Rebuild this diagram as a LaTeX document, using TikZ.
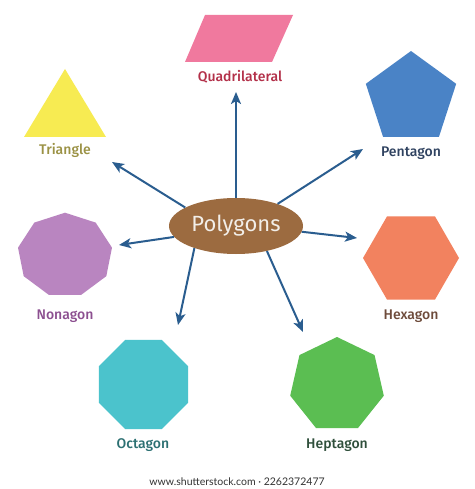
\documentclass[tikz,border=0pt]{standalone}
\usepackage{fontspec}
\setmainfont{Fira Sans}
\newfontfamily\labfont{Fira Sans Medium}
\newfontfamily\footfont{Lato}
\usetikzlibrary{shapes.geometric,arrows.meta}
\definecolor{quadc}{HTML}{F0799E}
\definecolor{tric}{HTML}{F7EB52}
\definecolor{pentc}{HTML}{4A83C6}
\definecolor{nonc}{HTML}{B985C0}
\definecolor{hexc}{HTML}{F2825F}
\definecolor{octc}{HTML}{4BC3CC}
\definecolor{hepc}{HTML}{5BBE52}
\definecolor{brownc}{HTML}{9C6B40}
\definecolor{quadt}{HTML}{B33049}
\definecolor{trit}{HTML}{9B9245}
\definecolor{pentt}{HTML}{2F4260}
\definecolor{nont}{HTML}{8C4F90}
\definecolor{hext}{HTML}{6E4B3B}
\definecolor{octt}{HTML}{2C7072}
\definecolor{hept}{HTML}{2F4F3B}
\definecolor{arrc}{HTML}{2A5D8F}
\definecolor{polyt}{HTML}{F2EEE8}
\tikzset{
  lbl/.style={font=\labfont\fontsize{14}{16}\selectfont, inner sep=0pt, anchor=center},
  conn/.style={draw=arrc, line width=2pt, -{Stealth[length=12pt,width=10pt,inset=3pt]}},
}
\begin{document}
\begin{tikzpicture}[x=1pt,y=-1pt]
\useasboundingbox[fill=white] (0,0) rectangle (474,489);
% shapes
\fill[quadc] (205,15) -- (293,15) -- (272,62) -- (185,62) -- cycle;
\fill[tric] (65,69) -- (106,137) -- (24,137) -- cycle;
\begin{scope}[shift={(411,98.5)}]
  \fill[pentc] (-90:47.5) \foreach \k in {1,...,4}{ -- (-90+72*\k:47.5)} -- cycle;
\end{scope}
\begin{scope}[shift={(411,258)}]
  \fill[hexc] (0:48) \foreach \k in {1,...,5}{ -- (60*\k:48)} -- cycle;
\end{scope}
\begin{scope}[shift={(143.5,384.5)}]
  \fill[octc] (22.5:48.2) \foreach \k in {1,...,7}{ -- (22.5+45*\k:48.2)} -- cycle;
\end{scope}
\begin{scope}[shift={(337,385)}]
  \fill[hepc] (-90:48) \foreach \k in {1,...,6}{ -- (-90+360/7*\k:48)} -- cycle;
\end{scope}
\begin{scope}[shift={(65,255)}, xscale=1.128]
  \fill[nonc] (-90:42.3) \foreach \k in {1,...,8}{ -- (-90+40*\k:42.3)} -- cycle;
\end{scope}
% labels
\node[lbl, text=quadt] (lquad) at (240,77) {Quadrilateral};
\node[lbl, text=trit]  (ltri)  at (65,150) {Triangle};
\node[lbl, text=pentt] (lpent) at (411,153) {Pentagon};
\node[lbl, text=nont]  (lnon)  at (65,316) {Nonagon};
\node[lbl, text=hext]  (lhex)  at (411,316) {Hexagon};
\node[lbl, text=octt]  (loct)  at (143,445) {Octagon};
\node[lbl, text=hept]  (lhep)  at (337,445) {Heptagon};
% centre
\node[ellipse, fill=brownc, minimum width=134pt, minimum height=56pt, inner sep=0pt,
      text=polyt, font=\fontsize{22}{24}\selectfont] (poly) at (236,226) {\raisebox{0pt}{Polygons}};
% arrow ends
\coordinate (tquad) at (236,92);
\coordinate (ttri)  at (112,162);
\coordinate (tpent) at (363,149);
\coordinate (thex)  at (357,238);
\coordinate (tnon)  at (119,245);
\coordinate (toct)  at (178,325);
\coordinate (thep)  at (303,332);
\draw[conn] (poly.north) -- (tquad);
\draw[conn] (poly.160) -- (ttri);
\draw[conn] (poly.28) -- (tpent);
\draw[conn] (poly.355) -- (thex);
\draw[conn] (poly.190) -- (tnon);
\draw[conn] (poly.208) -- (toct);
\draw[conn] (poly.321) -- (thep);
% footer
\node[font=\footfont\fontsize{10.5}{12}\selectfont, text=black!80, inner sep=0pt] (foot) at (237,482) {www.shutterstock.com · 2262372477};
\end{tikzpicture}
\end{document}
